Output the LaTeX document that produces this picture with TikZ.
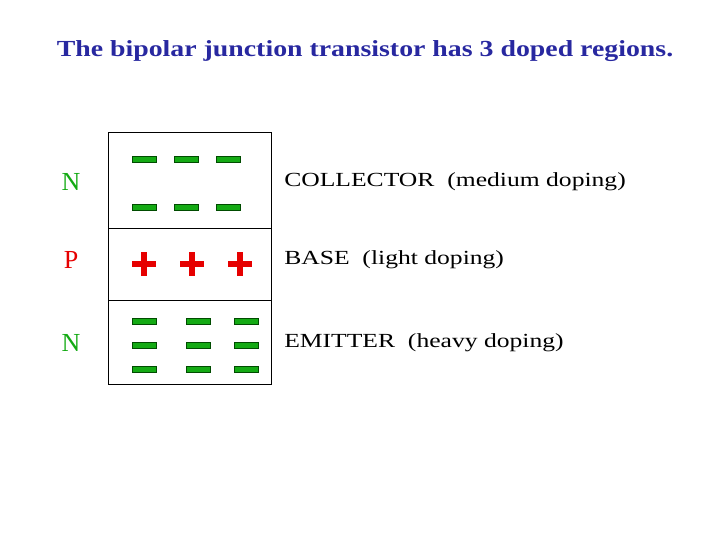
\documentclass[tikz,border=0pt]{standalone}
\usepackage{fontspec}
\setmainfont{Liberation Serif}
\definecolor{tblue}{RGB}{40,40,160}
\definecolor{mgreen}{RGB}{20,170,20}
\definecolor{pred}{RGB}{230,0,0}
\begin{document}
\begin{tikzpicture}[x=1pt,y=-1pt,
  minus/.style={draw=black!70!green,fill=mgreen,line width=0.6pt,minimum width=24pt,minimum height=6pt,inner sep=0pt},
  lbl/.style={anchor=west,font=\fontsize{20}{22}\selectfont,xscale=1.28,inner sep=0pt},
  letter/.style={font=\fontsize{26}{28}\selectfont}]
\useasboundingbox (0,0) rectangle (720,540);
\node[font=\bfseries\fontsize{23}{26}\selectfont,text=tblue,xscale=1.21] (title) at (365,51) {The bipolar junction transistor has 3 doped regions.};
\draw[line width=0.8pt] (108,132) rectangle (271,384);
\draw[line width=0.8pt] (108,228) -- (271,228);
\draw[line width=0.8pt] (108,300) -- (271,300);
\foreach \x [count=\i] in {144,186,228}{
  \node[minus] (ct\i) at (\x,159) {};
  \node[minus] (cb\i) at (\x,207) {};}
\foreach \x [count=\i] in {144,198,246}{
  \node[minus] (ea\i) at (\x,321) {};
  \node[minus] (eb\i) at (\x,345) {};
  \node[minus] (ec\i) at (\x,369) {};}
\foreach \x [count=\i] in {144,192,240}{
  \fill[pred] (\x-12,264-3) rectangle (\x+12,264+3);
  \fill[pred] (\x-3,264-12) rectangle (\x+3,264+12);
  \coordinate (p\i) at (\x,264);}
\node[letter,text=mgreen] (n1) at (71,182) {N};
\node[letter,text=pred] (pp) at (71,260) {P};
\node[letter,text=mgreen] (n2) at (71,343) {N};
\node[lbl] (c) at (284,182) {COLLECTOR\ \ (medium doping)};
\node[lbl] (b) at (284,260) {BASE\ \ (light doping)};
\node[lbl] (e) at (284,343) {EMITTER\ \ (heavy doping)};
\end{tikzpicture}
\end{document}
